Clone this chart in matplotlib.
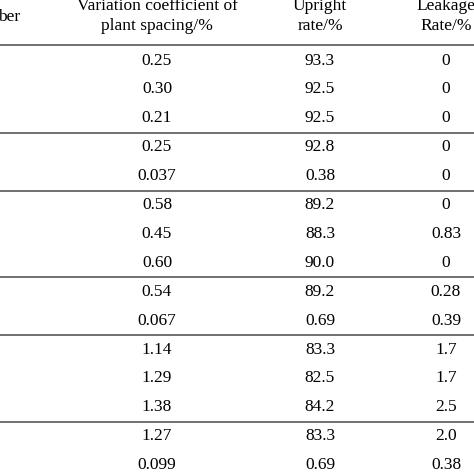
import matplotlib.pyplot as plt

plt.rcParams['font.family'] = ['Liberation Serif', 'DejaVu Serif']

# Table content (cropped view of the original table)
headers = [["ber", ""], ["Variation coefficient of", "plant spacing/%"],
           ["Upright", "rate/%"], ["Leakage", "Rate/%"]]
spacing_cv = ["0.25", "0.30", "0.21", "0.25", "0.037",
              "0.58", "0.45", "0.60", "0.54", "0.067",
              "1.14", "1.29", "1.38", "1.27", "0.099"]
upright = ["93.3", "92.5", "92.5", "92.8", "0.38",
           "89.2", "88.3", "90.0", "89.2", "0.69",
           "83.3", "82.5", "84.2", "83.3", "0.69"]
leakage = ["0", "0", "0", "0", "0",
           "0", "0.83", "0", "0.28", "0.39",
           "1.7", "1.7", "2.5", "2.0", "0.38"]
# row index after which a separator line is drawn
group_ends = [2, 4, 7, 9, 12]

W = 474
fig = plt.figure(figsize=(W / 100, W / 100), dpi=100)
ax = fig.add_axes([0, 0, 1, 1])
ax.set_xlim(0, W)
ax.set_ylim(W, 0)
ax.axis("off")

col_x = [157, 320, 446]
fs = 12.5

# header
ax.text(-2, 17, headers[0][0], fontsize=fs, ha="left", va="center")
for x, (l1, l2) in zip(col_x, headers[1:]):
    ax.text(x, 6, l1, fontsize=fs, ha="center", va="center")
    ax.text(x, 26, l2, fontsize=fs, ha="center", va="center")

line_kw = dict(color="#707070", lw=1.4)
ax.axhline(45, **line_kw)

row_y0, row_h = 60.5, 28.9
for i, vals in enumerate(zip(spacing_cv, upright, leakage)):
    y = row_y0 + i * row_h
    for x, v in zip(col_x, vals):
        ax.text(x, y, v, fontsize=fs, ha="center", va="center")
    if i in group_ends:
        ax.axhline(y + row_h / 2, **line_kw)

fig.savefig("out.png", dpi=100)
